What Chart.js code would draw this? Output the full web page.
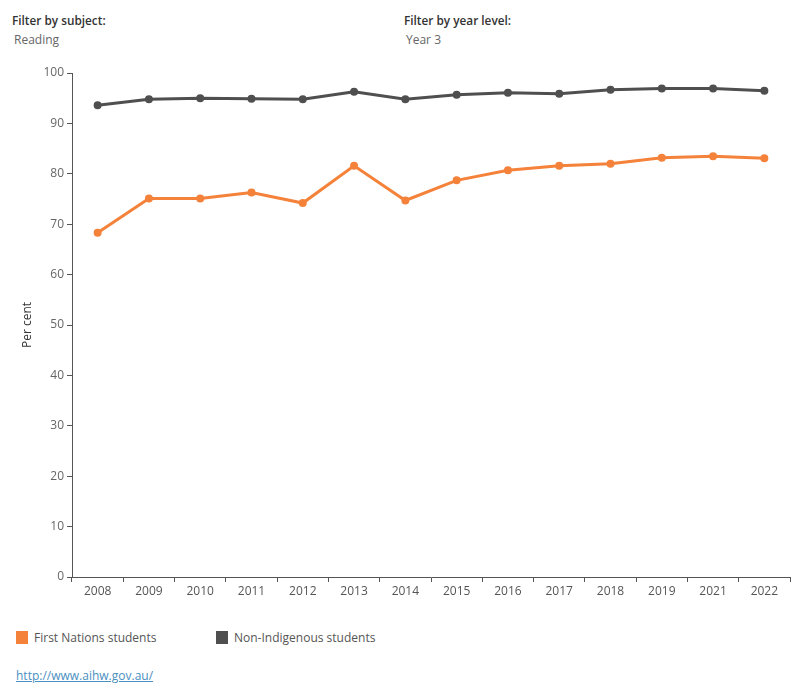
<!DOCTYPE html>
<html>
<head>
<meta charset="utf-8">
<script src="https://cdn.jsdelivr.net/npm/chart.js@4"></script>
<style>
  body { margin: 0; background: #fff; font-family: "Open Sans", Lato, sans-serif; }
  #wrap { position: relative; width: 800px; height: 700px; }
  .flt { position: absolute; font-size: 12px; }
  .flt b { color: #333; font-weight: 600; display: block; font-size: 11.8px; }
  .flt span { color: #666; display: block; margin-left: 2px; margin-top: 3px; }
  #chartBox { position: absolute; left: 0; top: 60px; width: 800px; height: 557px; }
  .leg { position: absolute; top: 629px; font-size: 12px; color: #555; }
  .leg i { display: inline-block; width: 12px; height: 13px; vertical-align: -2px; margin-right: 6px; }
  #link { position: absolute; left: 16px; top: 667px; font-size: 12px; color: #4a8fc1; text-decoration: underline; }
</style>
</head>
<body>
<div id="wrap">
  <div class="flt" style="left:12px; top:12px;"><b>Filter by subject:</b><span>Reading</span></div>
  <div class="flt" style="left:404px; top:12px;"><b>Filter by year level:</b><span>Year 3</span></div>
  <div id="chartBox"><canvas id="line-chart"></canvas></div>
  <div class="leg" style="left:16px;"><i style="background:#F5823A"></i>First Nations students</div>
  <div class="leg" style="left:216px;"><i style="background:#4F4F4F"></i>Non-Indigenous students</div>
  <a id="link" href="#">http://www.aihw.gov.au/</a>
</div>
<script>
    "use strict";

    // Data
    const years = ["2008", "2009", "2010", "2011", "2012", "2013", "2014", "2015", "2016", "2017", "2018", "2019", "2021", "2022"];
    const firstNations = [68.3, 75.1, 75.1, 76.3, 74.2, 81.6, 74.7, 78.7, 80.7, 81.6, 82.0, 83.2, 83.5, 83.1];
    const nonIndigenous = [93.6, 94.8, 95.0, 94.9, 94.8, 96.3, 94.8, 95.7, 96.1, 95.9, 96.7, 96.9, 96.9, 96.5];
    const yTicks = [0, 10, 20, 30, 40, 50, 60, 70, 80, 90, 100];

    const orange = "#F5823A";
    const dark = "#4F4F4F";
    const axisCol = "#555";
    const fontFam = "'Open Sans'";

    const ctx = document.getElementById('line-chart').getContext('2d');
    new Chart(ctx, {
        type: 'line',
        data: {
            labels: years,
            datasets: [
                { label: "First Nations students", data: firstNations, borderColor: orange, backgroundColor: orange, borderWidth: 3, pointRadius: 2.5, pointHoverRadius: 2.5, tension: 0 },
                { label: "Non-Indigenous students", data: nonIndigenous, borderColor: dark, backgroundColor: dark, borderWidth: 3, pointRadius: 2.5, pointHoverRadius: 2.5, tension: 0 }
            ]
        },
        options: {
            responsive: true,
            maintainAspectRatio: false,
            animation: false,
            layout: { padding: { top: 13, right: 10, left: 0, bottom: 0 } },
            plugins: { legend: { display: false }, tooltip: { enabled: false } },
            scales: {
                x: {
                    offset: true,
                    grid: { offset: true, drawOnChartArea: false, drawTicks: true, tickLength: 5, color: axisCol },
                    border: { display: true, color: axisCol, width: 1 },
                    ticks: { color: axisCol, font: { family: fontFam, size: 12 }, maxRotation: 0, padding: 2 },
                    afterFit: (s) => { s.height = 40; }
                },
                y: {
                    min: 0,
                    max: 100,
                    afterBuildTicks: (s) => { s.ticks = yTicks.map(v => ({ value: v })); },
                    grid: { drawOnChartArea: false, drawTicks: true, tickLength: 5, color: axisCol },
                    border: { display: true, color: axisCol, width: 1 },
                    ticks: { color: "#666", font: { family: fontFam, size: 12 }, padding: 3 },
                    title: { display: true, text: "Per cent", color: "#333", font: { family: fontFam, size: 12 }, padding: { top: 20, bottom: 0 } },
                    afterFit: (s) => { s.width = 72; }
                }
            }
        }
    });
</script>
</body>
</html>
